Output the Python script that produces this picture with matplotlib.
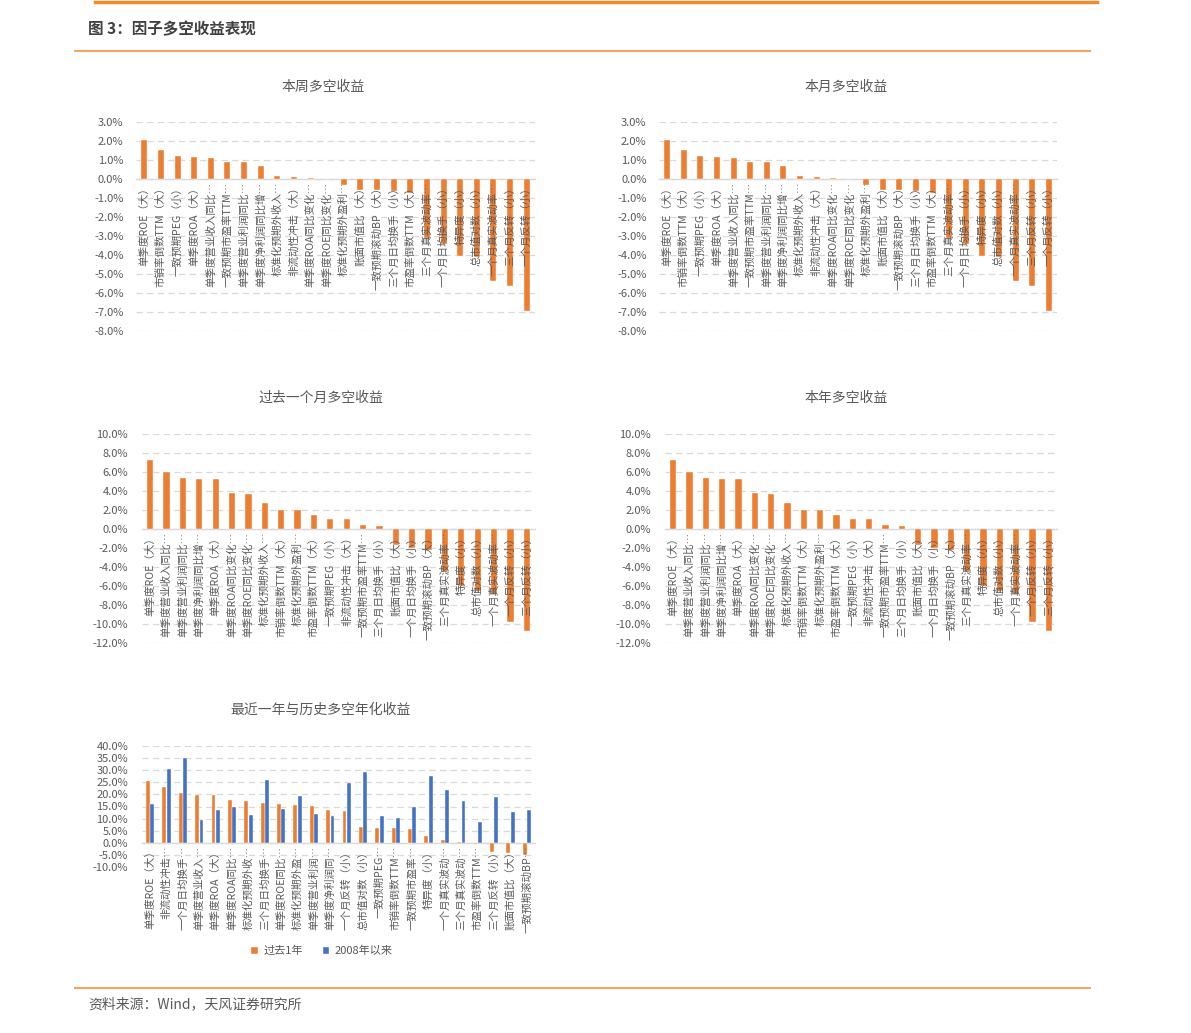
import matplotlib
matplotlib.use("Agg")
import matplotlib.pyplot as plt
from matplotlib.lines import Line2D
from matplotlib.ticker import FuncFormatter, MultipleLocator
import numpy as np

plt.rcParams['font.family'] = ['Noto Sans CJK SC', 'DejaVu Sans']

# ---------------- data ----------------
week_labels = ["单季度ROE（大）", "市销率倒数TTM（大）", "一致预期PEG（小）", "单季度ROA（大）",
               "单季度营业收入同比…", "一致预期市盈率TTM…", "单季度营业利润同比…", "单季度净利润同比增…",
               "标准化预期外收入…", "非流动性冲击（大）", "单季度ROA同比变化…", "单季度ROE同比变化…",
               "标准化预期外盈利…", "账面市值比（大）", "一致预期滚动BP（大）", "三个月日均换手（小）",
               "市盈率倒数TTM（大）", "三个月真实波动率…", "一个月日均换手（小）", "特异度（小）",
               "总市值对数（小）", "一个月真实波动率…", "三个月反转（小）", "一个月反转（小）"]
week_values = [2.04, 1.51, 1.23, 1.14, 1.10, 0.91, 0.89, 0.70, 0.18, 0.12, 0.05, -0.01,
               -0.33, -0.56, -0.57, -0.62, -0.74, -3.10, -3.40, -4.03, -4.08, -5.35, -5.65, -6.93]

month_labels = list(week_labels)
month_values = [2.04, 1.51, 1.23, 1.14, 1.10, 0.91, 0.89, 0.70, 0.18, 0.12, 0.05, -0.01,
                -0.33, -0.56, -0.57, -0.62, -0.74, -3.10, -3.40, -4.03, -4.08, -5.35, -5.65, -6.93]

past_month_labels = ["单季度ROE（大）", "单季度营业收入同比…", "单季度营业利润同比…", "单季度净利润同比增…",
                     "单季度ROA（大）", "单季度ROA同比变化…", "单季度ROE同比变化…", "标准化预期外收入…",
                     "市销率倒数TTM（大）", "标准化预期外盈利…", "市盈率倒数TTM（大）", "一致预期PEG（小）",
                     "非流动性冲击（大）", "一致预期市盈率TTM…", "三个月日均换手（小）", "账面市值比（大）",
                     "一个月日均换手（小）", "一致预期滚动BP（大）", "三个月真实波动率…", "特异度（小）",
                     "总市值对数（小）", "一个月真实波动率…", "一个月反转（小）", "三个月反转（小）"]
past_month_values = [7.25, 6.02, 5.40, 5.30, 5.22, 3.78, 3.64, 2.76, 2.05, 1.98, 1.48, 1.10,
                     1.02, 0.42, 0.35, -1.70, -2.00, -2.20, -4.40, -6.00, -6.50, -6.80, -9.75, -10.75]

year_labels = list(past_month_labels)
year_values = [7.25, 6.02, 5.40, 5.30, 5.22, 3.78, 3.64, 2.76, 2.05, 1.98, 1.48, 1.10,
               1.02, 0.42, 0.35, -1.70, -2.00, -2.20, -4.40, -6.00, -6.50, -6.80, -9.75, -10.75]

ann_labels = ["单季度ROE（大）", "非流动性冲击…", "一个月日均换手…", "单季度营业收入…", "单季度ROA（大）",
              "单季度ROA同比…", "标准化预期外收…", "三个月日均换手…", "单季度ROE同比…", "标准化预期外盈…",
              "单季度营业利润…", "单季度净利润同…", "一个月反转（小）", "总市值对数（小）", "一致预期PEG…",
              "市销率倒数TTM…", "一致预期市盈率…", "特异度（小）", "一个月真实波动…", "三个月真实波动…",
              "市盈率倒数TTM…", "三个月反转（小）", "账面市值比（大）", "一致预期滚动BP…"]
ann_last_year = [25.7, 22.9, 20.6, 19.7, 19.6, 17.8, 17.1, 16.4, 16.0, 15.7, 15.3, 13.5,
                 13.2, 6.7, 6.25, 6.0, 5.8, 2.9, 1.1, 0.2, -0.5, -3.8, -4.4, -5.1]
ann_since_2008 = [16.0, 30.3, 34.9, 9.4, 13.75, 15.0, 11.4, 25.8, 14.0, 19.3, 11.9, 11.25,
                  24.6, 29.2, 11.25, 10.1, 14.9, 27.6, 21.9, 17.1, 8.5, 19.0, 12.8, 13.5]
legend_names = ["过去1年", "2008年以来"]

titles = ["本周多空收益", "本月多空收益", "过去一个月多空收益", "本年多空收益", "最近一年与历史多空年化收益"]

# ---------------- style ----------------
ORANGE = "#ED7D31"
BLUE = "#4472C4"
GRID = "#D9D9D9"
TXT = "#595959"

W, H = 1191, 1033
fig = plt.figure(figsize=(W / 100, H / 100), dpi=100)


def px_axes(left, top, right, bottom):
    return fig.add_axes([left / W, 1 - bottom / H, (right - left) / W, (bottom - top) / H])


def style_axes(ax, labels, ymin, ymax, step, ypad):
    n = len(labels)
    ax.set_xlim(-0.5, n - 0.5)
    ax.set_ylim(ymin, ymax)
    ax.yaxis.set_major_locator(MultipleLocator(step))
    ax.yaxis.set_major_formatter(FuncFormatter(lambda v, p: f"{v:.1f}%"))
    ax.yaxis.grid(True, color=GRID, linestyle=(0, (5, 3.5)), linewidth=0.9)
    ax.set_axisbelow(True)
    ax.xaxis.set_zorder(3)  # category labels drawn over the bars
    for s in ("left", "right", "top"):
        ax.spines[s].set_visible(False)
    ax.spines["bottom"].set_position(("data", 0))
    ax.spines["bottom"].set_color(GRID)
    ax.spines["bottom"].set_linewidth(1.0)
    ax.spines["bottom"].set_zorder(1)
    ax.set_xticks(np.arange(n))
    ax.set_xticklabels(labels, rotation=90, fontsize=7.6, color=TXT)
    ax.tick_params(axis="x", length=0, pad=2)
    ax.tick_params(axis="y", length=0, pad=ypad, labelsize=8, labelcolor=TXT)


def single_chart(box, labels, values, ymin, ymax, step, width, ypad, title, title_xy):
    ax = px_axes(*box)
    x = np.arange(len(labels))
    ax.bar(x, values, width=width, color=ORANGE, edgecolor="white", linewidth=0.3, zorder=2)
    style_axes(ax, labels, ymin, ymax, step, ypad)
    fig.text(title_xy[0] / W, 1 - title_xy[1] / H, title, ha="center", va="center",
             fontsize=10, color=TXT)
    return ax


single_chart((136, 122, 535, 331), week_labels, week_values, -8, 3, 1, 0.36, 9, titles[0], (323, 87))
single_chart((659, 122, 1057, 331), month_labels, month_values, -8, 3, 1, 0.36, 9, titles[1], (846, 87))
single_chart((142, 434, 535, 643), past_month_labels, past_month_values, -12, 10, 2, 0.38, 10, titles[2], (321, 398))
single_chart((665, 434, 1057, 643), year_labels, year_values, -12, 10, 2, 0.38, 10, titles[3], (846, 398))

# chart 5: grouped bars
ax5 = px_axes(142, 746, 535, 867)
x = np.arange(len(ann_labels))
bw = 0.24
ax5.bar(x - 0.135, ann_last_year, width=bw, color=ORANGE, edgecolor="white", linewidth=0.3,
        zorder=2, label=legend_names[0])
ax5.bar(x + 0.135, ann_since_2008, width=bw, color=BLUE, edgecolor="white", linewidth=0.3,
        zorder=2, label=legend_names[1])
style_axes(ax5, ann_labels, -10, 40, 5, 10)
fig.text(321 / W, 1 - 710 / H, titles[4], ha="center", va="center", fontsize=10, color=TXT)
ax5.legend(loc="center", bbox_to_anchor=(322 / W, 1 - 951 / H), bbox_transform=fig.transFigure,
           ncol=2, frameon=False, fontsize=8, labelcolor=TXT, handlelength=0.6, handleheight=0.6,
           handletextpad=0.5, columnspacing=1.8)

# ---------------- header / footer ----------------
fig.add_artist(Line2D([95 / W, 1097 / W], [1 - 1.5 / H, 1 - 1.5 / H], color="#F08A2C", linewidth=2.5))
fig.text(88 / W, 1 - 29 / H, "图 3：因子多空收益表现", ha="left", va="center", fontsize=11.2,
         fontweight="bold", color="#404040")
fig.add_artist(Line2D([75 / W, 1090 / W], [1 - 51 / H, 1 - 51 / H], color="#F4A460", linewidth=1.5))
fig.add_artist(Line2D([75 / W, 1090 / W], [1 - 988 / H, 1 - 988 / H], color="#F4A460", linewidth=1.5))
fig.text(88 / W, 1 - 1004 / H, "资料来源：Wind，天风证券研究所", ha="left", va="center", fontsize=10,
         color=TXT)

fig.savefig("out.png", dpi=100, facecolor="white")
